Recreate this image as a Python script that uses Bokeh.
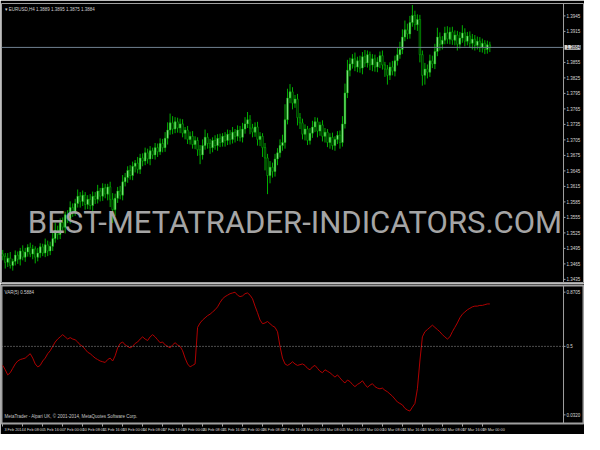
from bokeh.plotting import figure
from bokeh.models import Range1d, FixedTicker, Label, Span, ColumnDataSource
from bokeh.core.properties import value
from bokeh.layouts import column
from bokeh.embed import file_html
from bokeh.resources import INLINE

# ---- data (prices in pips above 1.3000, H4 bars) ----
close_pips = [
    480, 468, 476, 462, 470, 482, 474, 490, 478, 488,
    497, 484, 494, 478, 486, 498, 486, 502, 490, 499,
    514, 530, 522, 545, 536, 560, 552, 574, 566, 582,
    596, 586, 598, 580, 590, 578, 596, 590, 606, 596,
    612, 600, 614, 590, 570, 592, 606, 598, 624, 632,
    646, 636, 654, 660, 648, 670, 664, 680, 668, 684,
    676, 690, 682, 698, 690, 708, 724, 738, 726, 740,
    728, 736, 718, 724, 706, 712, 696, 704, 686, 676,
    694, 710, 698, 690, 704, 694, 708, 700, 712, 704,
    716, 706, 720, 712, 724, 710, 726, 736, 744, 728,
    720, 730, 706, 712, 690, 670, 636, 652, 644, 668,
    680, 694, 700, 744, 786, 798, 776, 784, 748, 738,
    716, 726, 704, 718, 730, 740, 722, 734, 712, 720,
    700, 710, 694, 706, 714, 700, 736, 796, 840, 852,
    862, 846, 858, 844, 866, 854, 870, 850, 862, 846,
    856, 868, 850, 842, 830, 846, 838, 858, 870, 880,
    904, 918, 910, 932, 946, 928, 938, 870, 830, 842,
    836, 858, 852, 876, 904, 890, 898, 912, 900, 914,
    898, 908, 890, 902, 912, 896, 906, 892, 900, 888,
    896, 884, 892, 880, 889, 884,
]
first_open_pips = 484
wick_up = [
    8, 6, 10, 12, 5, 9, 7, 6, 11, 8,
    6, 9, 8, 5, 10, 7, 6, 12, 8, 9,
    12, 15, 9, 8, 10, 6, 9, 12, 8, 9,
    13, 8, 9, 6, 8, 10, 9, 8, 12, 6,
    9, 8, 6, 10, 12, 9, 8, 10, 13, 9,
    8, 10, 9, 6, 12, 8, 9, 10, 8, 9,
    6, 9, 8, 10, 9, 12, 15, 18, 13, 9,
    8, 10, 9, 6, 8, 9, 10, 8, 6, 9,
    12, 15, 8, 9, 6, 10, 8, 9, 6, 8,
    9, 8, 10, 6, 9, 8, 12, 13, 15, 9,
    8, 9, 10, 8, 6, 9, 8, 12, 9, 10,
    9, 12, 15, 30, 18, 15, 9, 8, 10, 9,
    8, 9, 6, 10, 12, 9, 8, 6, 9, 8,
    6, 8, 9, 6, 8, 9, 15, 18, 20, 12,
    9, 12, 8, 10, 9, 13, 8, 6, 9, 8,
    9, 8, 10, 6, 8, 9, 12, 10, 13, 15,
    15, 18, 12, 13, 20, 9, 10, 9, 8, 12,
    9, 12, 10, 15, 18, 9, 8, 12, 13, 9,
    10, 9, 8, 12, 15, 9, 8, 9, 10, 8,
    9, 8, 9, 6, 8, 6,
]
wick_dn = [
    8, 12, 9, 6, 10, 8, 9, 12, 6, 9,
    9, 6, 10, 12, 8, 9, 6, 8, 10, 8,
    9, 8, 10, 9, 6, 12, 8, 9, 10, 8,
    8, 12, 9, 10, 9, 8, 12, 9, 8, 10,
    9, 8, 12, 15, 26, 12, 9, 8, 10, 9,
    10, 8, 9, 12, 8, 9, 10, 8, 9, 12,
    8, 9, 10, 6, 9, 8, 12, 9, 10, 8,
    9, 10, 8, 12, 9, 10, 8, 9, 12, 18,
    9, 8, 10, 12, 9, 8, 10, 9, 8, 12,
    9, 10, 8, 12, 9, 8, 10, 9, 8, 12,
    10, 9, 12, 13, 18, 24, 36, 15, 12, 10,
    12, 9, 10, 12, 9, 10, 12, 9, 15, 12,
    10, 12, 9, 8, 9, 10, 12, 9, 10, 12,
    9, 12, 8, 10, 9, 12, 8, 9, 10, 12,
    9, 8, 10, 9, 12, 8, 9, 10, 12, 9,
    10, 12, 9, 15, 18, 9, 8, 10, 9, 8,
    9, 8, 10, 9, 8, 10, 12, 15, 20, 18,
    12, 9, 8, 10, 9, 12, 10, 8, 9, 10,
    9, 10, 12, 8, 9, 10, 8, 9, 12, 10,
    8, 9, 10, 9, 8, 9,
]
indicator = [
    0.37, 0.34, 0.305, 0.32, 0.35, 0.38, 0.40, 0.41, 0.415, 0.42,
    0.435, 0.45, 0.42, 0.38, 0.36, 0.37, 0.40, 0.42, 0.45, 0.47,
    0.50, 0.53, 0.55, 0.565, 0.58, 0.565, 0.55, 0.56, 0.55, 0.545,
    0.53, 0.51, 0.50, 0.48, 0.46, 0.45, 0.435, 0.42, 0.41, 0.40,
    0.395, 0.39, 0.41, 0.42, 0.40, 0.435, 0.49, 0.52, 0.53, 0.51,
    0.50, 0.49, 0.50, 0.52, 0.53, 0.55, 0.565, 0.55, 0.54, 0.565,
    0.58, 0.565, 0.545, 0.525, 0.53, 0.51, 0.50, 0.49, 0.51, 0.525,
    0.51, 0.50, 0.47, 0.42, 0.38, 0.36, 0.37, 0.38, 0.63, 0.66,
    0.68, 0.695, 0.71, 0.72, 0.735, 0.75, 0.77, 0.80, 0.825, 0.84,
    0.85, 0.86, 0.865, 0.87, 0.85, 0.84, 0.845, 0.86, 0.865, 0.85,
    0.825, 0.775, 0.73, 0.68, 0.655, 0.66, 0.67, 0.655, 0.64, 0.63,
    0.60, 0.50, 0.42, 0.38, 0.37, 0.38, 0.395, 0.38, 0.37, 0.375,
    0.38, 0.37, 0.35, 0.34, 0.36, 0.37, 0.35, 0.33, 0.32, 0.34,
    0.33, 0.32, 0.305, 0.29, 0.305, 0.285, 0.265, 0.25, 0.27, 0.26,
    0.24, 0.225, 0.24, 0.25, 0.265, 0.24, 0.22, 0.235, 0.245, 0.225,
    0.215, 0.21, 0.215, 0.20, 0.19, 0.175, 0.16, 0.14, 0.12, 0.11,
    0.10, 0.077, 0.065, 0.058, 0.085, 0.11, 0.21, 0.40, 0.565, 0.60,
    0.615, 0.63, 0.645, 0.63, 0.615, 0.60, 0.58, 0.565, 0.55, 0.565,
    0.60, 0.63, 0.66, 0.695, 0.72, 0.735, 0.75, 0.76, 0.77, 0.775,
    0.775, 0.78, 0.78, 0.785, 0.79, 0.79,
]
price_ticks = [1.3945, 1.3915, 1.3855, 1.3825, 1.3795, 1.3765, 1.3735, 1.3705,
               1.3675, 1.3645, 1.3615, 1.3585, 1.3555, 1.3525, 1.3495, 1.3465, 1.3435]
ind_ticks = [0.8705, 0.5, 0.032]
ind_tick_labels = ["0.8705", "0.5", "0.0320"]
date_labels = ["3 Feb 2014", "4 Feb 08:00", "5 Feb 16:00", "7 Feb 00:00", "10 Feb 08:00",
               "11 Feb 16:00", "13 Feb 00:00", "14 Feb 08:00", "17 Feb 16:00", "19 Feb 00:00",
               "20 Feb 08:00", "21 Feb 16:00", "25 Feb 00:00", "26 Feb 08:00", "27 Feb 16:00",
               "3 Mar 00:00", "4 Mar 08:00", "5 Mar 16:00", "7 Mar 00:00", "10 Mar 08:00",
               "11 Mar 16:00", "13 Mar 00:00", "14 Mar 08:00", "17 Mar 16:00", "19 Mar 00:00"]
bars_per_label = 8
symbol_text = "EURUSD,H4"
indicator_name = "VAR(5) 0.5884"
copyright_text = "MetaTrader - Alpari UK, \u00a9 2001-2014, MetaQuotes Software Corp."
watermark = "BEST-METATRADER-INDICATORS.COM"

# ---- build OHLC ----
n = len(close_pips)
opens_p = [first_open_pips] + close_pips[:-1]
to_price = lambda v: 1.3 + v / 10000.0
xs = list(range(n))
o = [to_price(v) for v in opens_p]
c = [to_price(v) for v in close_pips]
h = [to_price(max(a, b) + w) for a, b, w in zip(opens_p, close_pips, wick_up)]
l = [to_price(min(a, b) - w) for a, b, w in zip(opens_p, close_pips, wick_dn)]
tops = [max(a, b) for a, b in zip(o, c)]
bots = [min(a, b) for a, b in zip(o, c)]
fills = ["#a8f0a8" if cc >= oo else "#000000" for oo, cc in zip(o, c)]
src = ColumnDataSource(dict(x=xs, o=o, c=c, h=h, l=l, top=tops, bottom=bots, fill=fills))

FONT = "Liberation Sans"
FS = "4.5px"
AX = "#a0a0a0"
LBL = "#d8d8d8"
X0, X1 = -0.5, 232.5      # full frame width (price scale drawn inside)
AXIS_X = 224.5            # where the price scale line sits

xr = Range1d(X0, X1)


def style_common(p):
    p.background_fill_color = "black"
    p.border_fill_color = "black"
    p.grid.visible = False
    p.outline_line_color = AX
    p.outline_line_width = 1


def price_scale(p, ticks, texts):
    p.add_layout(Span(location=AXIS_X, dimension="height", line_color=AX, line_width=1))
    p.segment(x0=[AXIS_X] * len(ticks), y0=ticks, x1=[AXIS_X + 0.8] * len(ticks), y1=ticks,
              line_color=AX, line_width=1)
    p.text(x=[AXIS_X + 1.2] * len(ticks), y=ticks, text=texts, text_baseline="middle",
           text_align="left", text_font=value(FONT), text_font_size=FS, text_color=LBL)


top = figure(width=584, height=283, x_range=xr, y_range=Range1d(1.3429, 1.3969),
             y_axis_location=None, x_axis_location=None,
             output_backend="svg", toolbar_location=None,
             min_border_left=1, min_border_right=1, min_border_top=3, min_border_bottom=1)
style_common(top)

top.segment(x0="x", y0="l", x1="x", y1="h", source=src, line_color="#00b000", line_width=1)
top.vbar(x="x", width=0.6, top="top", bottom="bottom", source=src,
         fill_color="fill", line_color="#00c000", line_width=0.6)

last_close = c[-1]
top.segment(x0=[X0], y0=[last_close], x1=[AXIS_X], y1=[last_close],
            line_color="#6f8090", line_width=1)
price_scale(top, price_ticks, ["%.4f" % t for t in price_ticks])
top.rect(x=[AXIS_X + 3.6], y=[last_close], width=6.4, height=0.0009,
         fill_color="#d8d8d8", line_color=None)
top.text(x=[AXIS_X + 1.2], y=[last_close], text=["%.4f" % last_close],
         text_baseline="middle", text_font=value(FONT), text_font_size=FS, text_color="black")

header = "%s  %.4f %.4f %.4f %.4f" % (symbol_text, o[-1], h[-1], l[-1], c[-1])
top.add_layout(Label(x=3, x_units="screen", y=1.3958, text="\u25be " + header,
                     text_baseline="middle", text_font=FONT, text_font_size=FS,
                     text_color="#d0d0d0"))
top.add_layout(Label(x=117, y=1.3546, text=watermark, text_align="center",
                     text_baseline="middle", text_font="Roboto", text_font_size="31px",
                     text_color="#a5a5a5"))

bot = figure(width=584, height=151, x_range=xr, y_range=Range1d(-0.027, 0.916),
             y_axis_location=None, x_axis_location="below",
             output_backend="svg", toolbar_location=None,
             min_border_left=1, min_border_right=1, min_border_top=2, min_border_bottom=0)
style_common(bot)
bot.outline_line_width = 2
price_scale(bot, ind_ticks, ind_tick_labels)

xa = bot.xaxis[0]
major = [i * bars_per_label + 4.5 for i in range(len(date_labels))]
minor = [i * bars_per_label for i in range(len(date_labels))]
xa.ticker = FixedTicker(ticks=major, minor_ticks=minor)
xa.major_label_overrides = {t: s for t, s in zip(major, date_labels)}
xa.axis_line_color = AX
xa.major_tick_line_color = None
xa.major_tick_out = 0
xa.major_tick_in = 0
xa.minor_tick_line_color = AX
xa.minor_tick_out = 3
xa.minor_tick_in = 0
xa.major_label_standoff = 1
xa.major_label_text_color = LBL
xa.major_label_text_font = FONT
xa.major_label_text_font_size = "3.8px"

bot.line(xs, indicator, line_color="#b00000", line_width=1)
bot.segment(x0=[X0], y0=[0.5], x1=[AXIS_X], y1=[0.5], line_color="#9a9a9a",
            line_width=1, line_dash="1 2")
bot.add_layout(Label(x=3, x_units="screen", y=0.87, text=indicator_name,
                     text_baseline="middle", text_font=FONT, text_font_size=FS,
                     text_color="#d0d0d0"))
bot.add_layout(Label(x=3, x_units="screen", y=0.005, text=copyright_text,
                     text_baseline="bottom", text_font=FONT, text_font_size=FS,
                     text_color="#c8c8c8"))

layout = column(top, bot, spacing=0)
open("out.html", "w").write(file_html(layout, INLINE))
